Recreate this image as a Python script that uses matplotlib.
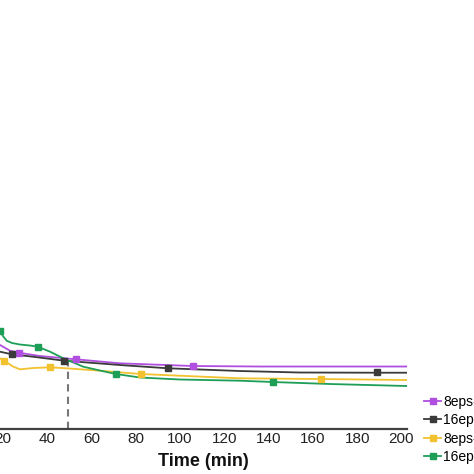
import matplotlib
matplotlib.use('Agg')
import matplotlib.pyplot as plt
import numpy as np

plt.rcParams['font.family'] = ['Liberation Sans', 'DejaVu Sans']

# curves (time in min, arbitrary response units)
green_t = [16.1, 18.8, 20.1, 21.8, 24.2, 27.8, 32.3, 35.8, 41.4, 47.4, 56.4, 63.9, 71.1, 82.0, 100.0, 127.1, 142.0, 167.8, 202.4]
green_y = [1.07, 0.99, 0.93, 0.883, 0.86, 0.845, 0.835, 0.823, 0.773, 0.707, 0.623, 0.585, 0.55, 0.515, 0.495, 0.483, 0.47, 0.45, 0.43]

magenta_t = [16.1, 18.8, 23.3, 27.4, 36.8, 53.1, 72.9, 105.9, 136.2, 202.4]
magenta_y = [0.87, 0.84, 0.783, 0.763, 0.73, 0.697, 0.657, 0.63, 0.625, 0.625]

gray_t = [16.1, 18.8, 24.1, 33.7, 47.8, 72.9, 94.8, 127.1, 154.2, 188.8, 202.4]
gray_y = [0.80, 0.773, 0.747, 0.723, 0.683, 0.64, 0.607, 0.58, 0.565, 0.563, 0.563]

yellow_t = [16.1, 18.8, 20.6, 24.8, 27.8, 33.8, 41.4, 48.9, 63.9, 82.3, 127.1, 163.6, 202.4]
yellow_y = [0.75, 0.707, 0.683, 0.623, 0.597, 0.61, 0.617, 0.607, 0.583, 0.55, 0.507, 0.50, 0.49]

# marker positions
green_mt = [18.8, 35.8, 71.1, 142.2]
green_my = [0.98, 0.823, 0.55, 0.47]
magenta_mt = [27.4, 53.1, 106.0]
magenta_my = [0.763, 0.697, 0.63]
gray_mt = [24.1, 47.8, 94.8, 188.8]
gray_my = [0.747, 0.683, 0.607, 0.567]
yellow_mt = [20.6, 41.4, 82.3, 163.6]
yellow_my = [0.683, 0.617, 0.55, 0.50]

labels = ['8eps-a', '16eps-a', '8eps-b', '16eps-b']
colors = ['#b04ee0', '#3a3a3a', '#f2c12e', '#1e9e57']

dash_t = 49.5
dash_top = 0.69

fig = plt.figure(figsize=(4.74, 4.74), dpi=100)
ax = fig.add_axes([-0.0878, 0.0949, 0.946, 0.9051])

series = [(magenta_t, magenta_y, magenta_mt, magenta_my),
          (gray_t, gray_y, gray_mt, gray_my),
          (yellow_t, yellow_y, yellow_mt, yellow_my),
          (green_t, green_y, green_mt, green_my)]

for (t, y, mt, my), lab, c in zip(series, labels, colors):
    ax.plot(t, y, color=c, lw=1.3, zorder=2)
    ax.plot(mt, my, ls='none', marker='s', ms=4.5, color=c, zorder=3)
    # legend proxy
    ax.plot([], [], color=c, lw=1.3, marker='s', ms=4.5, label=lab)

ax.plot([dash_t, dash_t], [0, dash_top], ls=(0, (3.5, 2.5)), color='#777777', lw=1.5, zorder=1)

ax.set_xlim(0, 202.4)
ax.set_ylim(0, 4.29)
ax.set_xticks(np.arange(0, 201, 20))
ax.set_yticks([])
ax.tick_params(axis='x', length=0, pad=2.5, labelsize=11, labelcolor='#222222')
for s in ['top', 'right', 'left']:
    ax.spines[s].set_visible(False)
ax.spines['bottom'].set_color('#404040')
ax.spines['bottom'].set_linewidth(1.6)

ax.set_xlabel('Time (min)', fontsize=13, fontweight='bold', va='center', color='#111111')
ax.xaxis.set_label_coords(0.5456, -0.0762)

fig.legend(loc='center left', bbox_to_anchor=(424 / 474, 1 - 429.5 / 474),
           frameon=False, fontsize=10, handlelength=1.25, handletextpad=0.15,
           labelspacing=0.32, borderpad=0, borderaxespad=0)

fig.savefig('out.png', dpi=100)
